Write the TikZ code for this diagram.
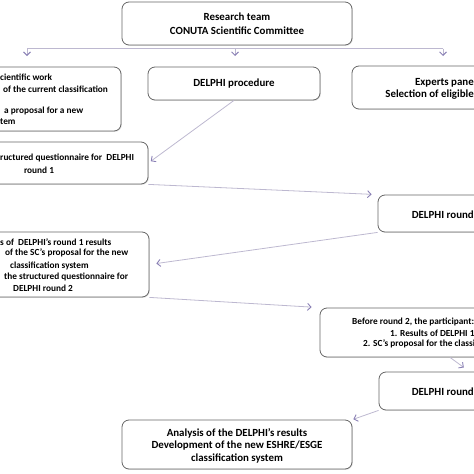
\documentclass[tikz,border=0pt]{standalone}
\usepackage{fontspec}
\setmainfont{Carlito}
\usetikzlibrary{arrows.meta,shadows}

\definecolor{boxgray}{HTML}{666666}
\definecolor{linkgray}{HTML}{BDB8D0}
\definecolor{tippurple}{HTML}{8A80B5}

\tikzset{
  box/.style={draw=boxgray, line width=0.8pt, rounded corners=7pt, fill=white,
    drop shadow={shadow xshift=0.8pt, shadow yshift=-0.8pt, opacity=0.25},
    inner sep=0pt},
  txt/.style={font=\bfseries\fontsize{10.9}{12.5}\selectfont, inner sep=0pt, align=center},
  txtmid/.style={txt, font=\bfseries\fontsize{9.3}{11.5}\selectfont},
  wire/.style={draw=linkgray, line width=0.8pt},
  link/.style={wire, -{Straight Barb[length=3.5pt,width=7pt,color=tippurple,line width=0.9pt]}},
}

\begin{document}
\begin{tikzpicture}[x=1pt,y=-1pt]
  \useasboundingbox (0,0) rectangle (474,474);
  \clip (0,0) rectangle (474,474);

  % boxes
  \node[box, minimum width=230pt, minimum height=43pt] (team) at (237,23.5) {};
  \node[box, minimum width=172pt, minimum height=33pt] (proc) at (234,83.5) {};
  \node[box, minimum width=161pt, minimum height=64pt] (sci) at (40.5,99) {};
  \node[box, minimum width=168pt, minimum height=43pt] (expert) at (436,87.5) {};
  \node[box, minimum width=218pt, minimum height=42pt] (quest) at (39,163) {};
  \node[box, minimum width=182pt, minimum height=37pt] (r1) at (469,213.5) {};
  \node[box, minimum width=209pt, minimum height=65pt] (anal1) at (44.5,264.5) {};
  \node[box, minimum width=260pt, minimum height=49pt] (before) at (450,332.5) {};
  \node[box, minimum width=181pt, minimum height=38pt] (r2) at (469.5,391) {};
  \node[box, minimum width=230pt, minimum height=49pt] (final) at (237,444.5) {};

  % texts
  \node[txt] (teamtxt) at (237,24) {Research team\\[1.5pt]CONUTA Scientific Committee};
  \node[txt] (proctxt) at (proc) {DELPHI procedure};
  \node[txtmid, anchor=west] (sci1) at (0,77) {cientific work};
  \node[txtmid, anchor=west] (sci2) at (3,89) {of the current classification};
  \node[txtmid, anchor=west] (sci3) at (4,111) {a proposal for a new};
  \node[txtmid, anchor=west] (sci4) at (0,122) {tem};
  \node[txt, anchor=east] (exp1) at (474,83) {Experts pane};
  \node[txt, anchor=east] (exp2) at (474,95) {Selection of eligible};
  \node[txtmid, anchor=west] (quest1) at (0,158) {ructured questionnaire for\ \ DELPHI};
  \node[txtmid] (quest2) at (39,170) {round 1};
  \node[txt, anchor=east] (r1txt) at (474,215) {DELPHI round};
  \node[txtmid, anchor=west] (an1) at (0,242) {s of\ \ DELPHI's round 1 results};
  \node[txtmid, anchor=west] (an2) at (5,253) {of the SC's proposal for the new};
  \node[txtmid, anchor=west] (an3) at (10,266) {classification system};
  \node[txtmid, anchor=west] (an4) at (4,277) {the structured questionnaire for};
  \node[txtmid] (an5) at (43,288) {DELPHI round 2};
  \node[txtmid, anchor=west] (bef1) at (352,322) {Before round 2, the participant:};
  \node[txtmid, anchor=west] (bef2) at (390,333) {1. Results of DELPHI 1};
  \node[txtmid, anchor=west] (bef3) at (363,344) {2. SC's proposal for the classi};
  \node[txt, anchor=east] (r2txt) at (474,392) {DELPHI round};
  \node[txt] (finaltxt) at (237,445.5) {Analysis of the DELPHI's results\\Development of the new ESHRE/ESGE\\classification system};

  % connectors
  \coordinate (busL) at (27,48.5);
  \coordinate (busM) at (235,48.5);
  \coordinate (busR) at (443,48.5);
  \draw[wire] (busL) -- (busR);
  \draw[link] (busL) -- (27,56);
  \draw[link] (busM) -- (235,56);
  \draw[link] (busR) -- (443,56);

  \draw[link, shorten >=3pt] (proc.south) -- (quest.east);
  \draw[link, shorten >=6pt] (quest.south east) -- (r1.north west);
  \draw[link, shorten >=7pt] (r1.south west) -- (anal1.east);
  \draw[link, shorten >=8pt] (anal1.south east) -- (before.north west);
  \draw[link, shorten >=7pt] (before.south) -- (r2.north);
  \draw[link, shorten >=1pt] (r2.south west) -- (final.north east);
\end{tikzpicture}
\end{document}
